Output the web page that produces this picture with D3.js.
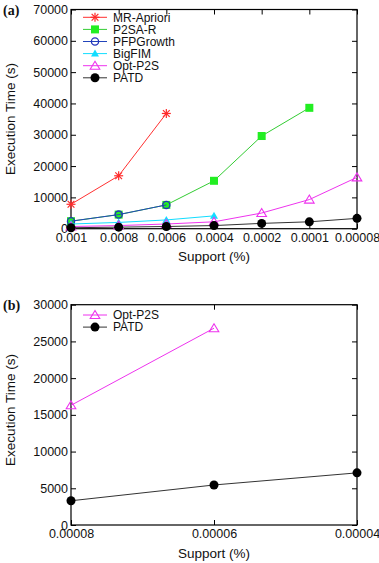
<!DOCTYPE html>
<html>
<head>
<meta charset="utf-8">
<script src="https://cdn.jsdelivr.net/npm/d3@7"></script>
<style>
  body { margin: 0; background: #fff; }
  svg text { font-family: "Liberation Sans", Arial, sans-serif; }
</style>
</head>
<body>
<div id="chart"></div>
<script>
// panel (a)
const supportA = ["0.001", "0.0008", "0.0006", "0.0004", "0.0002", "0.0001", "0.00008"];
const mrApriori = [7800, 16900, 36800];
const p2saR = [2400, 4500, 7600, 15300, 29600, 38600];
const pfpGrowth = [2400, 4500, 7600];
const bigFim = [1500, 2000, 2800, 4100];
const optP2sA = [700, 1000, 1500, 2200, 5000, 9300, 16400];
const patdA = [300, 500, 700, 1000, 1700, 2200, 3300];
const ticksA = [0, 10000, 20000, 30000, 40000, 50000, 60000, 70000];

// panel (b)
const supportB = ["0.00008", "0.00006", "0.00004"];
const optP2sB = [16300, 26800];
const patdB = [3300, 5450, 7100];
const ticksB = [0, 5000, 10000, 15000, 20000, 25000, 30000];

const styles = {
  "MR-Apriori": { color: "#ff2a2a", line: "#ff3030", marker: "star" },
  "P2SA-R": { color: "#22ee22", line: "#33cc33", marker: "square" },
  "PFPGrowth": { color: "#2233bb", line: "#2244bb", marker: "circle" },
  "BigFIM": { color: "#11ddff", line: "#11ddff", marker: "triangleFill" },
  "Opt-P2S": { color: "#ee33ee", line: "#ee33ee", marker: "triangle" },
  "PATD": { color: "#000000", line: "#333333", marker: "dot" }
};

const svg = d3.select("#chart").append("svg")
  .attr("width", 379)
  .attr("height", 563);

function drawMarker(g, type, x, y, color) {
  if (type === "star") {
    const s = 4.5;
    const p = g.append("g").attr("stroke", color).attr("stroke-width", 1.2);
    p.append("line").attr("x1", x - s).attr("x2", x + s).attr("y1", y).attr("y2", y);
    p.append("line").attr("x1", x).attr("x2", x).attr("y1", y - s).attr("y2", y + s);
    p.append("line").attr("x1", x - s * 0.75).attr("x2", x + s * 0.75).attr("y1", y - s * 0.75).attr("y2", y + s * 0.75);
    p.append("line").attr("x1", x - s * 0.75).attr("x2", x + s * 0.75).attr("y1", y + s * 0.75).attr("y2", y - s * 0.75);
  } else if (type === "square") {
    g.append("rect").attr("x", x - 4).attr("y", y - 4).attr("width", 8).attr("height", 8)
      .attr("fill", color);
  } else if (type === "circle") {
    g.append("circle").attr("cx", x).attr("cy", y).attr("r", 3.6)
      .attr("fill", "none").attr("stroke", color).attr("stroke-width", 1.3);
  } else if (type === "triangleFill") {
    g.append("path").attr("d", `M${x},${y - 4}L${x + 4},${y + 3}L${x - 4},${y + 3}Z`)
      .attr("fill", color);
  } else if (type === "triangle") {
    g.append("path").attr("d", `M${x},${y - 4.5}L${x + 4.8},${y + 3.5}L${x - 4.8},${y + 3.5}Z`)
      .attr("fill", "none").attr("stroke", color).attr("stroke-width", 1.1);
  } else if (type === "dot") {
    g.append("circle").attr("cx", x).attr("cy", y).attr("r", 4.5).attr("fill", color);
  }
}

function panel(opts) {
  const x = d3.scalePoint().domain(opts.categories).range([71, 357]);
  const y = d3.scaleLinear().domain([0, opts.ticks[opts.ticks.length - 1]]).range([opts.bottom, opts.top]);
  const g = svg.append("g");

  // ticks inward on all four sides
  const tick = 5;
  g.append("g").attr("transform", `translate(0,${opts.bottom})`)
    .call(d3.axisBottom(x).tickSize(-tick).tickPadding(4))
    .call(a => a.select(".domain").remove())
    .call(a => a.selectAll("text").attr("font-size", "12.5px").attr("fill", "#111").attr("dy", "0.71em"));
  g.append("g").attr("transform", `translate(0,${opts.top})`)
    .call(d3.axisTop(x).tickSize(-tick).tickFormat(""))
    .call(a => a.select(".domain").remove());
  g.append("g").attr("transform", `translate(71,0)`)
    .call(d3.axisLeft(y).tickValues(opts.ticks).tickSize(-tick).tickPadding(3).tickFormat(d3.format("d")))
    .call(a => a.select(".domain").remove())
    .call(a => a.selectAll("text").attr("font-size", "12.5px").attr("fill", "#111"));
  g.append("g").attr("transform", `translate(357,0)`)
    .call(d3.axisRight(y).tickValues(opts.ticks).tickSize(-tick).tickFormat(""))
    .call(a => a.select(".domain").remove());
  g.selectAll(".tick line").attr("stroke", "#000");

  g.append("rect").attr("x", 71).attr("y", opts.top)
    .attr("width", 286).attr("height", opts.bottom - opts.top)
    .attr("fill", "none").attr("stroke", "#000").attr("stroke-width", 1.2);

  // series
  opts.series.forEach(s => {
    const st = styles[s.name];
    const pts = s.values.map((v, i) => [x(opts.categories[i]), y(v)]);
    g.append("path").attr("d", d3.line()(pts))
      .attr("fill", "none").attr("stroke", st.line).attr("stroke-width", 1);
    pts.forEach(p => drawMarker(g, st.marker, p[0], p[1], st.color));
  });

  // legend
  opts.series.forEach((s, i) => {
    const st = styles[s.name];
    const ly = opts.legendTop + i * 12.1;
    g.append("line").attr("x1", 83).attr("x2", 107).attr("y1", ly).attr("y2", ly)
      .attr("stroke", st.line).attr("stroke-width", 1);
    drawMarker(g, st.marker, 95, ly, st.color);
    g.append("text").attr("x", 113).attr("y", ly + 4.3)
      .attr("font-size", "12px").attr("fill", "#111").text(s.name);
  });

  // labels
  g.append("text").attr("x", 214).attr("y", opts.bottom + 32.5)
    .attr("text-anchor", "middle").attr("font-size", "13.5px").attr("fill", "#111")
    .text("Support (%)");
  g.append("text").attr("transform", `translate(15,${opts.labelY}) rotate(-90)`)
    .attr("text-anchor", "middle").attr("font-size", "13.5px").attr("fill", "#111")
    .text("Execution Time (s)");
  g.append("text").attr("x", 3).attr("y", opts.top + 5)
    .attr("font-weight", "bold").attr("font-size", "14px").attr("fill", "#111")
    .style("font-family", "'Liberation Serif', serif")
    .text(opts.tag);
}

panel({
  tag: "(a)",
  categories: supportA,
  ticks: ticksA,
  top: 9.5,
  bottom: 228.7,
  legendTop: 17.3,
  labelY: 119,
  series: [
    { name: "MR-Apriori", values: mrApriori },
    { name: "P2SA-R", values: p2saR },
    { name: "PFPGrowth", values: pfpGrowth },
    { name: "BigFIM", values: bigFim },
    { name: "Opt-P2S", values: optP2sA },
    { name: "PATD", values: patdA }
  ]
});

panel({
  tag: "(b)",
  categories: supportB,
  ticks: ticksB,
  top: 304.7,
  bottom: 525,
  legendTop: 315,
  labelY: 410,
  series: [
    { name: "Opt-P2S", values: optP2sB },
    { name: "PATD", values: patdB }
  ]
});
</script>
</body>
</html>
